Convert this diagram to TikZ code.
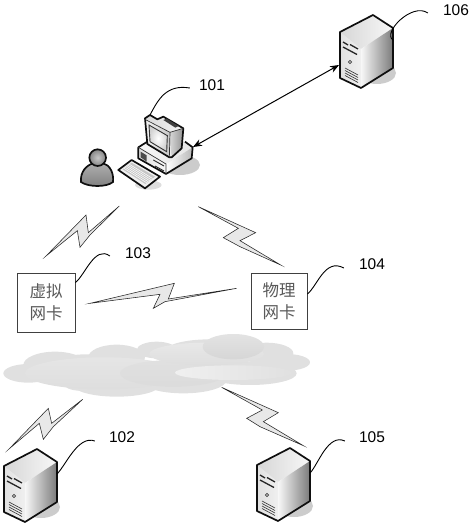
\documentclass[tikz,border=0pt]{standalone}
\usepackage{fontspec}
\setmainfont{Liberation Sans}
\newfontfamily\cjk{Noto Sans CJK SC}
\usetikzlibrary{arrows.meta,calc}
\definecolor{outl}{gray}{0.06}
\tikzset{
  lab/.style={font=\fontsize{15.5}{18}\selectfont,text=black,inner sep=0pt},
  nic/.style={draw=black!75,line width=0.9pt,fill=white,align=center,inner sep=0pt,
     font=\cjk\fontsize{16.5}{22}\selectfont,text=black!65},
  lead/.style={draw=black,line width=0.9pt},
  bolt/.style={draw=black!85,line width=0.55pt,fill=black!9,line join=miter,miter limit=20},
  hull/.style={draw=outl,line width=1.7pt,line join=round},
  server/.pic={
    \fill[black!20] (37,41) ellipse (19 and 11);
    \shade[left color=black!12,right color=black!6] (0,0)--(21,17)--(21,56)--(0,46)--cycle;
    \shade[left color=black!16,right color=black!3] (0,0)--(33,-17)--(53,-4)--(21,17)--cycle;
    \shade[left color=black!3,right color=black!52] (21,17)--(53,-4)--(53,36)--(21,56)--cycle;
    \draw[hull] (0,0)--(33,-17)--(53,-4)--(53,36)--(21,56)--(0,46)--cycle;
    \draw[black!85,line width=1.3pt] (3,10)--(8,13) (10,12.5)--(18,17);
    \draw[black!85,line width=1.3pt] (3,15)--(17,22.5);
    \draw[black!75,line width=0.7pt] (10,30) circle (1.6);
    \draw[black!80,line width=0.6pt] (5,36)--(18,43) (5,38.5)--(18,45.5) (5,41)--(18,48) (5,43.5)--(18,50.5);
    \coordinate (-lead) at (53,8);
    \coordinate (-port) at (-1,33);
  }
}
\begin{document}
\begin{tikzpicture}[x=1pt,y=-1pt]
\useasboundingbox (0,0) rectangle (474,526);

% cloud
\begin{scope}[shift={(0,330)},scale=1/3]
  \foreach \x/\y/\a/\b in {85/130/75/28,165/105/95/40,260/105/110/32,350/82/85/38,470/60/60/25,630/60/130/32,800/70/80/32,860/97/70/25,750/130/140/35,350/165/130/35,550/150/130/40,240/160/50/22}
    \fill[black!12] (\x,\y) ellipse (\a pt and \b pt);
  \shade[top color=black!10,bottom color=black!13] (310,130) ellipse (235pt and 48pt);
  \shade[top color=black!12,bottom color=black!14] (520,130) ellipse (160pt and 40pt);
  \shade[top color=black!9,bottom color=black!13] (620,72) ellipse (172pt and 34pt);
  \shade[top color=black!11,bottom color=black!16] (700,50) ellipse (92pt and 38pt);
  \shade[left color=black!6,right color=black!12] (700,128) ellipse (175pt and 22pt);
\end{scope}

% computer and user
\begin{scope}[shift={(70,70)},scale=1/3]
  \fill[black!20] (330,285) ellipse (60pt and 30pt);
  \fill[black!13] (235,345) ellipse (40pt and 14pt);
  % base
  \shade[left color=black!3,right color=black!10] (205,232)--(240,210)--(345,215)--(368,232)--(288,282)--cycle;
  \shade[left color=black!12,right color=black!3] (205,232)--(288,282)--(288,312)--(205,265)--cycle;
  \shade[left color=white,right color=black!28] (288,282)--(368,232)--(365,265)--(288,312)--cycle;
  \draw[hull] (240,210)--(205,232)--(205,265)--(288,312)--(365,265)--(368,232)--(345,215);
  \draw[black!80,line width=0.7pt] (205,232)--(288,282)--(288,312);
  \fill[black!70] (212,245)--(230,256)--(230,275)--(212,262)--cycle;
  \draw[black!85,line width=0.9pt] (250,270)--(282,288) (255,288)--(282,303);
  % monitor
  \shade[left color=black!3,right color=black!42] (298,195)--(280,140)--(340,175)--(335,235)--(305,262)--cycle;
  \shade[left color=black!15,right color=black!4] (225,145)--(240,135)--(262,148)--(280,140)--(340,175)--(300,187)--cycle;
  \shade[left color=black!4,right color=black!22] (225,148)--(300,187)--(298,262)--(232,222)--cycle;
  \shade[inner color=white,outer color=black!18,draw=black!80,line width=0.9pt] (237,165)--(292,197)--(290,245)--(240,215)--cycle;
  \draw[hull] (232,222)--(225,145)--(240,135)--(262,148)--(280,140)--(340,175)--(335,235)--(305,262)--(298,262)--cycle;
  \draw[black!80,line width=0.7pt] (225,148)--(300,187)--(340,175) (300,187)--(298,262);
  \fill[black!75] (280,150)--(290,146)--(326,168)--(316,173)--cycle;
  % keyboard
  \draw[hull,fill=black!6] (145,300)--(185,270)--(270,320)--(225,355)--cycle;
  \fill[black!22] (158,298)--(185,278)--(255,320)--(226,342)--cycle;
  \foreach \t in {0.15,0.3,...,0.9}
    \draw[white,line width=0.5pt] ($(158,298)!\t!(185,278)$)--($(226,342)!\t!(255,320)$);
  % user
  \shade[top color=black!32,bottom color=black!50,draw=outl,line width=1.7pt]
    (33,336) .. controls (30,305) and (50,285) .. (70,280) -- (100,280)
    .. controls (120,285) and (132,310) .. (129,336) .. controls (110,352) and (55,352) .. (33,336) -- cycle;
  \shade[inner color=black!22,outer color=black!48,draw=outl,line width=1.7pt] (83,263) circle (25pt);
\end{scope}

% servers
\pic (s106) at (340,32) {server};
\pic (s102) at (4,466) {server};
\pic (s105) at (257,465) {server};
\coordinate (pc-port) at (193,147);
\draw[black,line width=1pt,{Stealth[length=9pt,width=7pt]}-{Stealth[length=9pt,width=7pt]}] (pc-port) -- (s106-port);

% bolts
\begin{scope}[shift={(0,200)},scale=1/3]
  \draw[bolt] (138,168)--(258,45)--(265,98)--(358,18)--(270,105)--(240,142)--(232,92)--cycle;
  \draw[bolt] (270,310)--(523,250)--(505,297)--(710,265)--(495,305)--(460,325)--(480,283)--cycle;
\end{scope}
\begin{scope}[shift={(190,200)},scale=1/3]
  \draw[bolt] (25,20)--(197,98)--(150,122)--(272,195)--(150,140)--(100,113)--(145,85)--cycle;
\end{scope}
\begin{scope}[shift={(0,390)},scale=1/3]
  \draw[bolt] (28,176)--(145,55)--(155,100)--(248,28)--(160,110)--(130,148)--(118,100)--cycle;
\end{scope}
\begin{scope}[shift={(210,380)},scale=1/3]
  \draw[bolt] (35,22)--(205,98)--(160,125)--(280,197)--(150,140)--(110,115)--(157,90)--cycle;
\end{scope}

% NIC boxes
\node[nic,minimum width=58pt,minimum height=59pt] (n103) at (46,302.5) {虚拟\\网卡};
\node[nic,minimum width=56pt,minimum height=56pt] (n104) at (279,301) {物理\\网卡};

% labels
\node[lab] (l101) at (212,85) {101};
\node[lab] (l106) at (456,10) {106};
\node[lab] (l103) at (138,253) {103};
\node[lab] (l104) at (372,264) {104};
\node[lab] (l102) at (122,437) {102};
\node[lab] (l105) at (372,437) {105};

% leaders
\coordinate (pc-top) at (150,115);
\coordinate (a3) at ($(n103.north east)+(0,10)$);
\coordinate (a4) at ($(n104.east)+(0,-7)$);
\coordinate (e1) at ($(l101.west)+(-9,3)$);
\coordinate (e6) at ($(l106.west)+(-15,3)$);
\coordinate (e3) at ($(l103.west)+(-15,3)$);
\coordinate (e4) at ($(l104.west)+(-15,4)$);
\coordinate (e2) at ($(l102.west)+(-14,4)$);
\coordinate (e5) at ($(l105.west)+(-14,4)$);
\draw[lead] (pc-top) .. controls (158,100) and (166,84) .. (e1);
\draw[lead] (s106-lead) .. controls (382,33) and (412,2) .. (e6);
\draw[lead] (a3) .. controls (85,275) and (95,245) .. (e3);
\draw[lead] (a4) .. controls (318,285) and (325,258) .. (e4);
\draw[lead] (s102-lead) .. controls (66,465) and (78,435) .. (e2);
\draw[lead] (s105-lead) .. controls (318,465) and (328,433) .. (e5);
\end{tikzpicture}
\end{document}
